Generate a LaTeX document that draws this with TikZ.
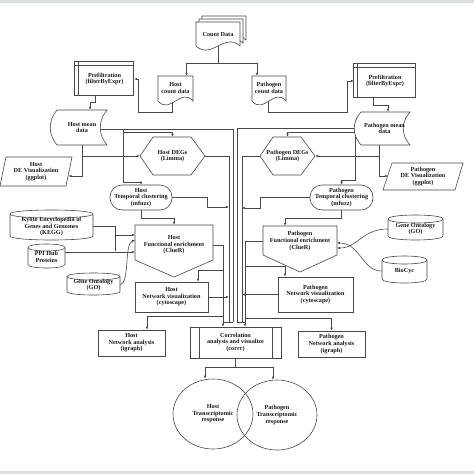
\documentclass[tikz,border=0pt]{standalone}
\usepackage{fontspec}
\setmainfont{Liberation Serif}
\usetikzlibrary{arrows.meta,shapes.geometric,backgrounds}
\definecolor{lncol}{HTML}{484848}
\definecolor{bandcol}{HTML}{DCDFDF}
\newcommand\mydoc[4]{\draw[ln,fill=white] (#1,#4) -- (#1,#2) -- (#3,#2) -- (#3,#4) .. controls ({#1+0.65*(#3-#1)},{#4-14}) and ({#1+0.35*(#3-#1)},{#4+14}) .. (#1,#4) -- cycle;}
\newcommand\mystored[5]{\draw[ln,fill=white] (#1,#2) -- (#3,#2) .. controls ({#3-#5},{#2+0.3*(#4-#2)}) and ({#3-#5},{#4-0.3*(#4-#2)}) .. (#3,#4) -- (#1,#4) .. controls ({#1-#5},{#4-0.3*(#4-#2)}) and ({#1-#5},{#2+0.3*(#4-#2)}) .. (#1,#2) -- cycle;}
\newcommand\myistore[4]{\draw[ln,fill=white] (#1,#2) rectangle (#3,#4); \draw[ln] ({#1+4},#2) -- ({#1+4},#4); \draw[ln] (#1,{#2+4}) -- (#3,{#2+4});}
\newcommand\myhex[7]{\draw[ln,fill=white] (#1,#6) -- (#2,#5) -- (#3,#5) -- (#4,#6) -- (#3,#7) -- (#2,#7) -- cycle;}
\newcommand\mycyl[5]{\draw[ln,fill=white] (#1,{#2+#5}) -- (#1,{#4-#5}) .. controls (#1,{#4+#5/3}) and (#3,{#4+#5/3}) .. (#3,{#4-#5}) -- (#3,{#2+#5}) .. controls (#3,{#2-#5/3}) and (#1,{#2-#5/3}) .. (#1,{#2+#5}) -- cycle;
 \draw[ln] (#1,{#2+#5}) .. controls (#1,{#2+7*#5/3}) and (#3,{#2+7*#5/3}) .. (#3,{#2+#5});}
\newcommand\mypent[6]{\draw[ln,fill=white] (#1,#2) -- (#3,#2) -- (#3,#4) -- (#5,#6) -- (#1,#4) -- cycle;}
\newcommand\mypp[4]{\draw[ln,fill=white] (#1,#2) rectangle (#3,#4); \draw[ln] ({#1+9},#2) -- ({#1+9},#4); \draw[ln] ({#3-9},#2) -- ({#3-9},#4);}
\tikzset{
 ln/.style={draw=lncol, line width=0.6pt},
 arr/.style={ln, -{Latex[length=3pt,width=2.6pt]}},
 tx/.style={font=\fontsize{6.2}{6.6}\selectfont\bfseries, align=center, inner sep=0pt, text=black!90},
 rbox/.style={tx, draw=lncol, line width=0.6pt, fill=white},
 stad/.style={rbox, rounded corners=12pt},
 circ/.style={tx, draw=lncol, line width=0.6pt, ellipse, minimum width=80pt, minimum height=70pt}
}
\begin{document}
\begin{tikzpicture}[x=1pt,y=-1pt]
\useasboundingbox (0,0) rectangle (474,474);
\fill[bandcol] (0,0) rectangle (474,2.5);
\fill[bandcol] (0,470.5) rectangle (474,474);

% ---------- shapes and nodes ----------
\mydoc{202}{16}{246}{40}
\mydoc{199}{19}{243}{43}
\mydoc{196}{22}{240}{46}
\node[tx, minimum width=44pt, minimum height=24pt] (cd) at (218,34) {Count Data};

\mydoc{158}{76}{193}{101}
\node[tx, minimum width=35pt, minimum height=24pt] (hcd) at (175.5,88) {Host\\count data};
\mydoc{252}{76}{286}{101}
\node[tx, minimum width=34pt, minimum height=24pt] (pcd) at (269,88) {Pathogen\\count data};

\myistore{74}{61}{133}{95}
\node[tx, minimum width=59pt, minimum height=34pt] (pf1) at (104.5,79) {Prefiltration\\(filterByExpr)};
\myistore{353}{63}{415}{97}
\node[tx, minimum width=62pt, minimum height=34pt] (pf2) at (385,81) {Prefiltration\\(filterByExpr)};

\mystored{57}{110}{107}{145}{9}
\node[tx, minimum width=50pt, minimum height=35pt] (hmd) at (82,127.5) {Host mean\\data};
\mystored{361}{112}{410}{145}{9}
\node[tx, minimum width=49pt, minimum height=33pt] (pmd) at (384.5,128.5) {Pathogen mean\\data};

\myhex{140}{153}{191}{205}{137}{156}{175}
\node[tx, minimum width=65pt, minimum height=38pt] (hdeg) at (172.5,156) {Host DEGs\\(Limma)};
\myhex{260}{273}{301}{315}{137}{156}{175}
\node[tx, minimum width=55pt, minimum height=38pt] (pdeg) at (287.5,156) {Pathogen DEGs\\(Limma)};

\draw[ln,fill=white] (6,157) -- (72,157) -- (66,186) -- (0,186) -- cycle;
\node[tx, minimum width=66pt, minimum height=29pt] (hvis) at (36,171.5) {Host\\DE Visualization\\(ggplot)};
\draw[ln,fill=white] (392,163) -- (463,163) -- (455,190) -- (383,190) -- cycle;
\node[tx, minimum width=72pt, minimum height=27pt] (pvis) at (423,176.5) {Pathogen\\DE Visualization\\(ggplot)};

\node[stad, minimum width=62pt, minimum height=25pt] (hclu) at (141,197.5) {Host\\Temporal clustering\\(mfuzz)};
\node[stad, minimum width=63pt, minimum height=25pt] (pclu) at (341.5,197.5) {Pathogen\\Temporal clustering\\(mfuzz)};

\mycyl{10}{210}{93}{240}{4}
\node[tx, minimum width=83pt, minimum height=30pt] (kegg) at (51.5,226.5) {Kyoto Encyclopedia of\\Genes and Genomes\\(KEGG)};
\mycyl{28}{244}{65}{268}{3.5}
\node[tx, minimum width=37pt, minimum height=24pt] (ppi) at (46.5,257) {PPI Hub\\Proteins};
\mycyl{67}{273}{120}{295}{3.5}
\node[tx, minimum width=53pt, minimum height=22pt] (hgo) at (93.5,285) {Gene Ontology\\(GO)};
\mycyl{388}{215}{443}{240}{4}
\node[tx, minimum width=55pt, minimum height=25pt] (pgo) at (415.5,229) {Gene Ontology\\(GO)};
\mycyl{382}{256}{427}{283}{4}
\node[tx, minimum width=45pt, minimum height=27pt] (bio) at (404.5,271) {BioCyc};

\mypent{135}{225}{213}{260}{174}{277}
\node[tx, minimum width=78pt, minimum height=40pt] (hfe) at (174,245) {Host\\Functional enrichment\\(ClueR)};
\mypent{263}{226}{337}{255}{300}{272}
\node[tx, minimum width=74pt, minimum height=30pt] (pfe) at (300,241) {Pathogen\\Functional enrichment\\(ClueR)};

\node[rbox, minimum width=73pt, minimum height=30pt] (hnv) at (171.5,297) {Host\\Network visualization\\(cytoscape)};
\node[rbox, minimum width=75pt, minimum height=35pt] (pnv) at (315.5,294.5) {Pathogen\\Network visualization\\(cytoscape)};

\node[rbox, minimum width=67pt, minimum height=26pt] (hna) at (131.5,343) {Host\\Network analysis\\(igraph)};
\mypp{190}{327}{281}{358}
\node[tx, minimum width=91pt, minimum height=31pt] (cor) at (235.5,342.5) {Correlation\\analysis and visualize\\(corrr)};
\node[rbox, minimum width=67pt, minimum height=26pt] (pna) at (331.5,344) {Pathogen\\Network analysis\\(igraph)};

\node[circ] (hcir) at (213,414) {Host\\Transcriptomic\\response};
\node[circ] (pcir) at (277,415) {Pathogen\\Transcriptomic\\response};

% ---------- connectors ----------
\begin{pgfonlayer}{background}
\draw[ln] (cd.south) -- (218,63);
\draw[arr] (218,63) -| ([xshift=11pt]hcd.north);
\draw[arr] (218,63) -| ([xshift=-12pt]pcd.north);

\draw[arr] ([xshift=-3.5pt]hcd.center) |- (138,112) |- (pf1.east);
\draw[arr] ([xshift=-1pt]pcd.center) |- (347,112) |- (pf2.west);

\draw[arr] ([xshift=-9.5pt]pf1.center) |- (90,102) -- ([xshift=8pt]hmd.north);
\draw[arr] ([xshift=-12pt]pf2.center) |- (388,105) -- ([xshift=3.5pt]pmd.north);

\draw[arr] (hmd.center) |- (68.5,176);
\draw[arr] (82,156) -- (hdeg.west);
\draw[arr] ([xshift=-5.5pt]pmd.center) |- (388,176);
\draw[arr] (379,156) -- (pdeg.east);

\draw[ln] ([yshift=-1.5pt]hmd.center) -- (233,129) -- (233,322);
\draw[arr] (123,129) |- (141,182) -- (hclu.north);
\draw[arr] (123,132) -| (hdeg.north);
\draw[ln] (pmd.center) -- (237,128.5) -- (237,322);
\draw[arr] (355,128.5) |- (341.5,180) -- (pclu.north);
\draw[arr] (355,132) -| (pdeg.north);

\draw[ln] (hdeg.east) -- (229,156) -- (229,322);
\draw[ln] (pdeg.west) -- (242,156) -- (242,322);

\draw[arr] (hclu.east) -- (207,197.5) |- (229,207);
\draw[arr] (pclu.west) -- (260,197.5) |- (242,208);

\draw[arr] (hclu.south) |- (174,218) -- (hfe.north);
\draw[arr] (pclu.south) |- (285,218) -- ([xshift=-15pt]pfe.north);

\draw[ln] (kegg.east) -- (115,226.5) -- (115,251);
\draw[arr] (115,235) -- (135,235);
\draw[arr] ([yshift=5pt]ppi.east) -- (135,252);
\draw[arr] (hgo.east) .. controls (130,282) and (124,244) .. (135,240);

\draw[arr] (pgo.west) .. controls (362,229) and (358,248) .. (337,248);
\draw[arr] (bio.west) .. controls (362,271) and (360,243) .. (337,243);

\draw[arr] (hfe.east) -- (223,245) -- ([xshift=-12.5pt]cor.north);
\draw[arr] (pfe.west) -- (245,241) -- ([xshift=9.5pt]cor.north);

\draw[arr] (223,270) -| ([xshift=26.5pt]hnv.north);
\draw[arr] (245,266) -| ([xshift=-30.5pt]pnv.north);

\draw[arr] (hnv.east) -- (229,297);
\draw[arr] (pnv.west) -- (242,294.5);

\draw[ln] (223,322) -- (233,322);
\draw[ln] (237,322) -- (245,322);

\draw[arr] (223,316) -| ([xshift=15.5pt]hna.north);
\draw[arr] (245,318) -| (pna.north);

\draw[ln] (cor.south) -- (235.5,367);
\draw[arr] (235.5,367) -| ([xshift=-8pt]hcir.north);
\draw[arr] (235.5,367) -| ([xshift=-4pt]pcir.north);
\end{pgfonlayer}
\end{tikzpicture}
\end{document}
